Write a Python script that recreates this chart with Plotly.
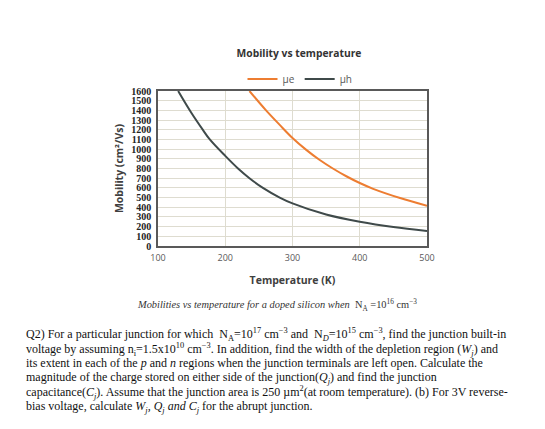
import plotly.graph_objects as go

# values
temp_e = [236, 260, 281, 300, 320, 340, 360, 380, 400, 420, 460, 500]
mu_e = [1600, 1405, 1250, 1115, 995, 890, 800, 720, 650, 590, 495, 415]

temp_h = [130, 150, 167, 177, 200, 219, 236, 256, 281, 300, 350, 400, 450, 500]
mu_h = [1600, 1370, 1196, 1100, 930, 800, 700, 600, 500, 440, 325, 250, 195, 155]

x_ticks = [100, 200, 300, 400, 500]
y_ticks = list(range(0, 1700, 100))

W, H = 545, 429
OFF = 8  # page body margin pushes the figure right/down
# plot area in pixels (as seen in the reference)
L, R, T, B = 158 - OFF, 427 - OFF, 91 - OFF, 246 - OFF


def px(x):
    return (x - OFF - L) / (R - L)


def py(y):
    return (B - (y - OFF)) / (B - T)


fig = go.Figure()
fig.add_trace(go.Scatter(x=temp_e, y=mu_e, mode="lines", name="μe",
                         line=dict(color="#ED7D31", width=2, shape="spline")))
fig.add_trace(go.Scatter(x=temp_h, y=mu_h, mode="lines", name="μh",
                         line=dict(color="#3F4A4A", width=2, shape="spline")))

fig.update_layout(
    width=W, height=H,
    margin=dict(l=L, r=W - R, t=T, b=H - B, autoexpand=False),
    paper_bgcolor="white", plot_bgcolor="white",
    font=dict(family="Open Sans", color="#404040"),
    title=dict(text="<b>Mobility vs temperature</b>", x=(299 - OFF) / W, xref="container",
               xanchor="center", y=1 - (53 - OFF) / H, yref="container", yanchor="middle",
               font=dict(size=10.3, color="#333333")),
    showlegend=True,
    legend=dict(orientation="h", x=(300 - OFF) / W, xref="container", xanchor="center",
                y=1 - (79 - OFF) / H, yref="container", yanchor="middle",
                font=dict(size=10, color="#595959"), itemwidth=30,
                bgcolor="rgba(0,0,0,0)"),
)

fig.update_xaxes(range=[100, 500], tickvals=x_ticks, showgrid=True, gridcolor="#DEDCD0",
                 gridwidth=1, showline=True, linecolor="#595959", linewidth=1.5, mirror=True,
                 ticks="", ticklabelstandoff=2,
                 tickfont=dict(size=9, color="#595959", family="Open Sans"),
                 title=dict(text="<b>Temperature (K)</b>", font=dict(size=10.5, color="#404040"),
                            standoff=14),
                 zeroline=False, automargin=False)
fig.update_yaxes(range=[0, 1600], tickvals=y_ticks, showgrid=True, gridcolor="#DEDCD0",
                 gridwidth=1, showline=True, linecolor="#595959", linewidth=1.5, mirror=True,
                 ticks="", ticklabelstandoff=3,
                 tickfont=dict(size=10, color="#222222", family="Liberation Sans Narrow",
                               weight="bold"),
                 title=dict(text="<b>Mobility (cm²/Vs)</b>", font=dict(size=10.5, color="#404040"),
                            standoff=6),
                 zeroline=False, automargin=False)

serif = "Liberation Serif"

fig.add_annotation(
    text="<i>Mobilities vs temperature for a doped silicon when</i>  N<sub>A</sub> =10<sup>16</sup> cm<sup>−3</sup>",
    xref="paper", yref="paper", x=px(277), y=py(305.5), xanchor="center", yanchor="middle",
    showarrow=False, font=dict(family=serif, size=10.4, color="#333333"))

lines = [
    "Q2) For a particular junction for which  N<sub>A</sub>=10<sup>17</sup> cm<sup>−3</sup> and  N<sub><i>D</i></sub>=10<sup>15</sup> cm<sup>−3</sup>, find the junction built-in",
    "voltage by assuming n<sub>i</sub>=1.5x10<sup>10</sup> cm<sup>−3</sup>. In addition, find the width of the depletion region (<i>W<sub>j</sub></i>) and",
    "its extent in each of the <i>p</i> and <i>n</i> regions when the junction terminals are left open. Calculate the",
    "magnitude of the charge stored on either side of the junction(<i>Q<sub>j</sub></i>) and find the junction",
    "capacitance(<i>C<sub>j</sub></i>). Assume that the junction area is 250 µm<sup>2</sup>(at room temperature). (b) For 3V reverse-",
    "bias voltage, calculate <i>W<sub>j</sub>, Q<sub>j</sub> and C<sub>j</sub></i> for the abrupt junction.",
]
line_y = [334.3, 349.0, 363.3, 378.0, 392.5, 406.7]
for txt, yy in zip(lines, line_y):
    fig.add_annotation(text=txt, xref="paper", yref="paper", x=px(23.5), y=py(yy),
                       xanchor="left", yanchor="middle", showarrow=False,
                       font=dict(family=serif, size=12, color="#111111"))

fig.write_html("out.html")
